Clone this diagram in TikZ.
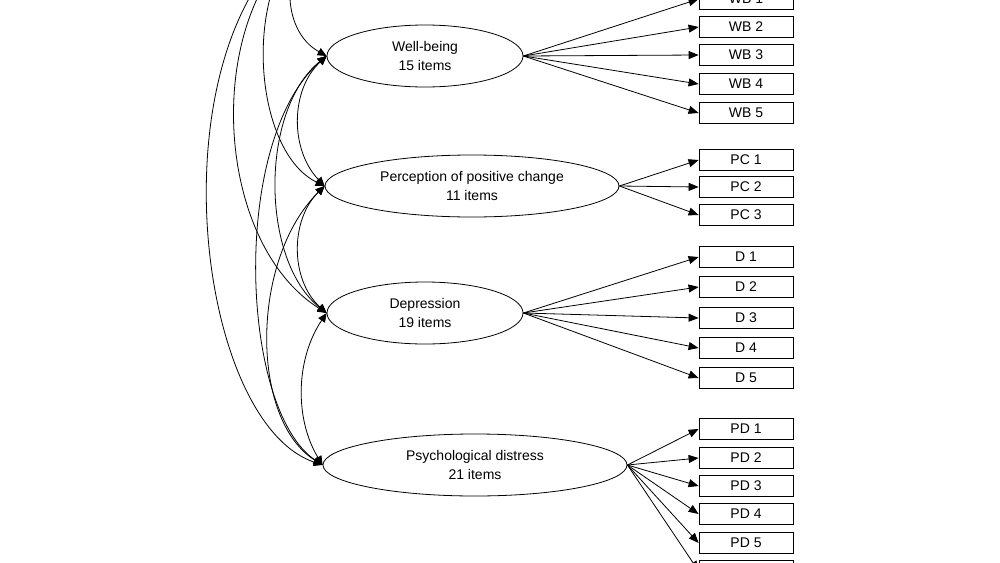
\documentclass[tikz,border=0pt]{standalone}
\usepackage{fontspec}
\setmainfont{Liberation Sans}
\usetikzlibrary{arrows.meta,shapes.geometric}
\begin{document}
\begin{tikzpicture}[x=1pt,y=-1pt,line width=0.8pt,
 lat/.style={draw,ellipse,inner sep=0pt,font=\fontsize{14}{19}\selectfont,align=center},
 ind/.style={draw,minimum width=94pt,minimum height=21pt,inner sep=0pt,font=\fontsize{14}{16}\selectfont},
 ld/.style={-{Triangle[length=10pt,width=8pt]}},
 cr/.style={{Triangle[length=9pt,width=8pt]}-{Triangle[length=9pt,width=8pt]}}]
\useasboundingbox (0,0) rectangle (1000,562);
\begin{scope}
\clip (0,0) rectangle (1000,562);
\node[lat,minimum width=196pt,minimum height=62pt] (wb) at (425,56) {Well-being\\15 items};
\node[lat,minimum width=294pt,minimum height=62pt] (pc) at (472,186) {Perception of positive change\\11 items};
\node[lat,minimum width=196pt,minimum height=62pt] (d) at (425,313) {Depression\\19 items};
\node[lat,minimum width=304pt,minimum height=62pt] (pd) at (475,465) {Psychological distress\\21 items};
\node[lat,minimum width=196pt,minimum height=62pt] (top) at (425,-80) {};
\foreach \n/\y in {1/-1,2/27,3/55,4/84,5/113}{\node[ind] (wb\n) at (746,\y) {WB \n}; \draw[ld] (wb.east) -- (wb\n.west);}
\foreach \n/\y in {1/160,2/187,3/215}{\node[ind] (pc\n) at (746,\y) {PC \n}; \draw[ld] (pc.east) -- (pc\n.west);}
\foreach \n/\y in {1/257,2/287,3/318,4/348,5/378}{\node[ind] (d\n) at (746,\y) {D \n}; \draw[ld] (d.east) -- (d\n.west);}
\foreach \n/\y in {1/429,2/458,3/486,4/514,5/543,6/571}{\node[ind] (pd\n) at (746,\y) {PD \n}; \draw[ld] (pd.east) -- (pd\n.west);}
% correlations
\draw[cr] (top.west) .. controls (280,-40) and (280,30) .. (wb.west);
\draw[cr] (top.west) .. controls (240,-30) and (250,150) .. (pc.west);
\draw[cr] (top.west) .. controls (200,0) and (210,240) .. (d.west);
\draw[cr] (top.west) .. controls (150,20) and (190,420) .. (pd.west);
\draw[cr] (wb.west) .. controls (290,90) and (290,150) .. (pc.west);
\draw[cr] (wb.west) .. controls (260,110) and (260,260) .. (d.west);
\draw[cr] (wb.west) .. controls (230,140) and (240,410) .. (pd.west);
\draw[cr] (pc.west) .. controls (290,220) and (290,280) .. (d.west);
\draw[cr] (pc.west) .. controls (250,260) and (250,420) .. (pd.west);
\draw[cr] (d.west) .. controls (295,360) and (295,420) .. (pd.west);
\end{scope}
\end{tikzpicture}
\end{document}
